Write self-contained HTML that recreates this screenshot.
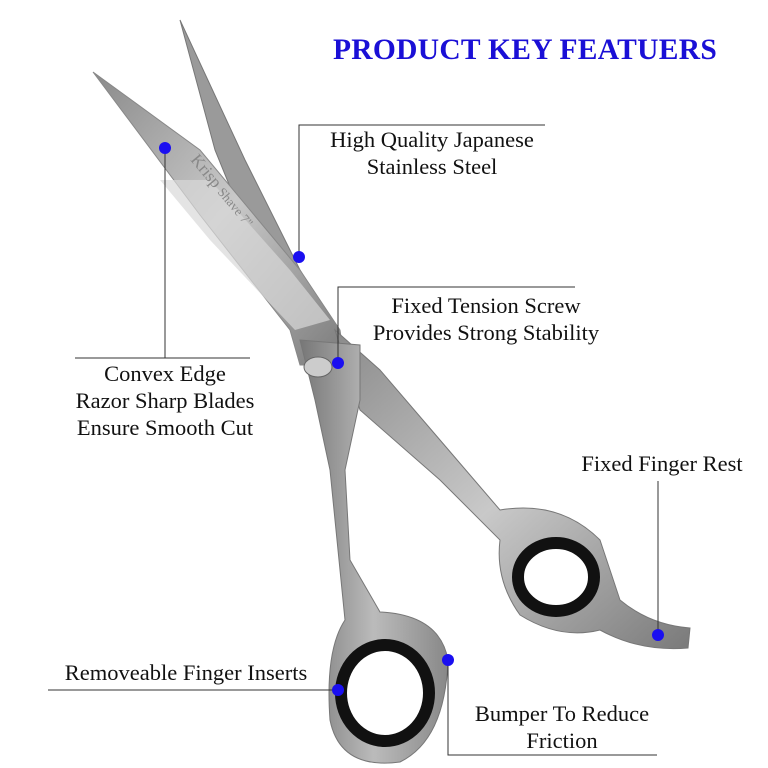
<!DOCTYPE html>
<html><head><style>
body{margin:0;background:#fff;width:768px;height:768px;overflow:hidden;position:relative;font-family:"Liberation Serif",serif}
.t{position:absolute;font-size:22.5px;color:#111;text-align:center;line-height:27px;white-space:nowrap}
h1{position:absolute;left:300px;top:32px;width:450px;margin:0;font-size:29.5px;color:#1a0fd6;text-align:center;font-weight:bold;letter-spacing:0.3px;line-height:36px}
svg{position:absolute;left:0;top:0}
</style></head><body>
<svg width="768" height="768">
<defs>
<linearGradient id="g" x1="0" y1="0" x2="1" y2="1">
<stop offset="0" stop-color="#8a8a8a"/><stop offset="0.5" stop-color="#c9c9c9"/><stop offset="1" stop-color="#7a7a7a"/></linearGradient>
<linearGradient id="g2" x1="0" y1="0" x2="1" y2="0">
<stop offset="0" stop-color="#777"/><stop offset="0.5" stop-color="#bbb"/><stop offset="1" stop-color="#888"/></linearGradient>
</defs>
<polygon points="180,20 245,160 300,270 345,345 320,360 270,285 215,150" fill="#9a9a9a" stroke="#777" stroke-width="1"/>
<polygon points="93,72 200,150 300,270 340,330 345,365 300,365 290,330 200,215" fill="url(#g)" stroke="#888" stroke-width="1"/>
<polygon points="210,180 290,270 330,320 295,330 210,240 160,180" fill="#d8d8d8" opacity="0.7"/>
<path d="M335,330 L380,370 L440,440 L500,510 Q560,500 600,540 L620,600 Q650,625 690,628 L688,648 Q640,652 600,630 Q560,640 520,615 Q495,580 500,540 L440,480 L360,410 Z" fill="url(#g)" stroke="#777" stroke-width="1"/>
<path d="M300,340 L360,345 L360,400 L345,470 L350,560 L380,612 Q440,615 448,660 Q445,740 400,762 Q340,770 330,720 Q325,650 345,620 L330,470 L315,400 Z" fill="url(#g2)" stroke="#777" stroke-width="1"/>
<ellipse cx="318" cy="367" rx="14" ry="10" fill="#ccc" stroke="#666"/>
<ellipse cx="556" cy="577" rx="38" ry="34" fill="#fff" stroke="#111" stroke-width="12"/>
<ellipse cx="385" cy="693" rx="44" ry="48" fill="#fff" stroke="#111" stroke-width="12"/>
<g stroke="#333" stroke-width="1" fill="none">
<polyline points="299,257 299,125 545,125"/>
<polyline points="165,148 165,358"/><line x1="75" y1="358" x2="250" y2="358"/>
<polyline points="338,363 338,287 575,287"/>
<polyline points="658,635 658,481"/>
<line x1="48" y1="690" x2="338" y2="690"/>
<polyline points="448,660 448,755 657,755"/>
</g>
<g fill="#1a0ff0">
<circle cx="299" cy="257" r="6"/><circle cx="165" cy="148" r="6"/><circle cx="338" cy="363" r="6"/>
<circle cx="658" cy="635" r="6"/><circle cx="338" cy="690" r="6"/><circle cx="448" cy="660" r="6"/>
</g>
<text x="190" y="160" transform="rotate(50 190 160)" font-family="Liberation Serif" font-size="17" fill="#888">Krisp <tspan font-size="13">Shave 7"</tspan></text>
</svg>
<h1>PRODUCT KEY FEATUERS</h1>
<div class="t" style="left:302px;top:126px;width:260px">High Quality Japanese<br>Stainless Steel</div>
<div class="t" style="left:45px;top:360px;width:240px">Convex Edge<br>Razor Sharp Blades<br>Ensure Smooth Cut</div>
<div class="t" style="left:346px;top:292px;width:280px">Fixed Tension Screw<br>Provides Strong Stability</div>
<div class="t" style="left:542px;top:450px;width:240px">Fixed Finger Rest</div>
<div class="t" style="left:46px;top:659px;width:280px">Removeable Finger Inserts</div>
<div class="t" style="left:442px;top:700px;width:240px">Bumper To Reduce<br>Friction</div>
</body></html>
